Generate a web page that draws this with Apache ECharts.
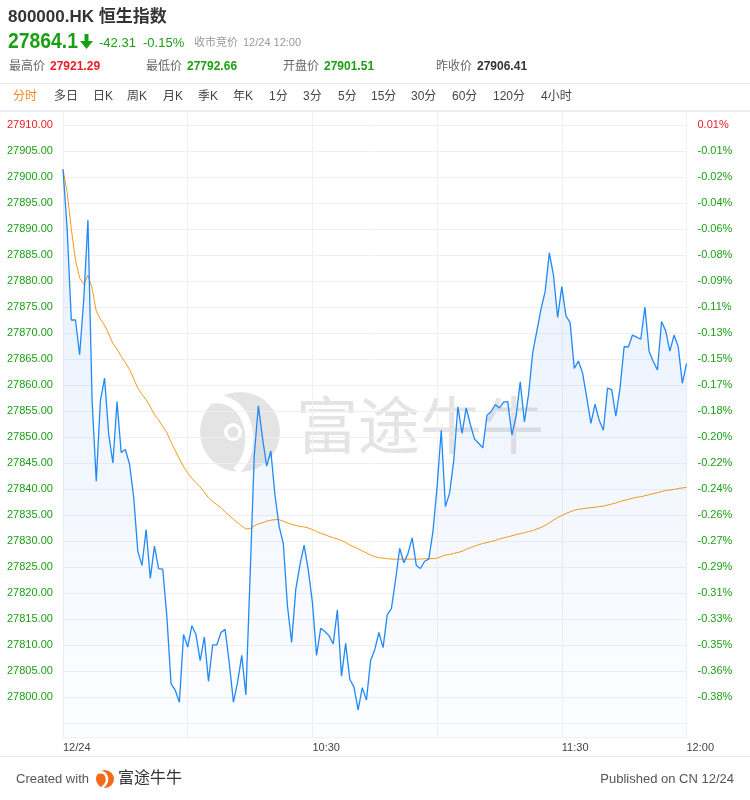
<!DOCTYPE html>
<html lang="zh-CN">
<head>
<meta charset="UTF-8">
<title>800000.HK 恒生指数 分时</title>
<script src="https://cdn.jsdelivr.net/npm/echarts@6/dist/echarts.min.js"></script>
<style>
    html, body { margin: 0; padding: 0; background: #fff; }
    #main { width: 750px; height: 800px; }
</style>
</head>
<body>
<div id="main"></div>
<script>
    // ---- data ----
    var prevClose = 27906.41;
    var lastPrice = 27864.1;
    var change = -42.31;
    var changePct = -0.15;
    var highPrice = 27921.29;
    var lowPrice = 27792.66;
    var openPrice = 27901.51;

    // price every minute 09:30 .. 12:00
    var prices = [
        27901.5, 27890, 27872.5, 27872.5, 27865.8, 27876.5, 27891.7, 27857, 27841.5, 27857,
        27861.3, 27850.5, 27845, 27856.8, 27847, 27847.6, 27844.8, 27838.5, 27828, 27825.3,
        27832.2, 27822.8, 27829, 27824.7, 27824.6, 27815.3, 27802.5, 27801.3, 27799, 27812,
        27809.6, 27813.7, 27812, 27807, 27811.5, 27803, 27810, 27810, 27812.4, 27813,
        27806.5, 27799, 27802.8, 27808, 27800.4, 27823, 27846.3, 27856, 27849.8, 27844.4,
        27847.3, 27838.8, 27832.8, 27829.5, 27817.5, 27810.5, 27820.7, 27825.4, 27829.2, 27824.5,
        27818.2, 27808, 27813.2, 27812.6, 27811.8, 27810.2, 27816.7, 27804, 27810.3, 27803.4,
        27801.9, 27797.5, 27801.8, 27799.4, 27807, 27809.1, 27812.4, 27809.5, 27815.8, 27817,
        27822.5, 27828.6, 27825.8, 27827.6, 27830.6, 27825.3, 27824.7, 27826.1, 27826.5, 27831.8,
        27840.5, 27851.3, 27836.6, 27839.2, 27845.4, 27855.8, 27850.7, 27855.6, 27852.4, 27849.6,
        27848.8, 27847.9, 27854.2, 27854.9, 27856.2, 27855.6, 27856.7, 27856.8, 27850.4, 27854,
        27860.6, 27852.9, 27858.2, 27866.2, 27870.4, 27874.6, 27878, 27885.4, 27881.1, 27873,
        27878.9, 27873.3, 27872, 27863.2, 27864.6, 27862.3, 27857.6, 27852.6, 27856.3, 27853.2,
        27851.3, 27859.4, 27859.1, 27854, 27859.3, 27867.4, 27867.3, 27869.6, 27869.2, 27868.8,
        27875, 27866.5, 27864.5, 27862.9, 27872.2, 27870.4, 27866.5, 27869.6, 27867.4, 27860.3,
        27864.1
    ];

    // average price line
    var avgPrices = [
        27901.5, 27897, 27890, 27884, 27880.6, 27879.4, 27881.1, 27878.6, 27874.2, 27872.7,
        27871.5, 27869.8, 27868, 27866.9, 27865.5, 27864.3, 27863, 27861.2, 27859.4, 27858.2,
        27857.2, 27855.8, 27854.3, 27853.3, 27852, 27850.8, 27849, 27847.4, 27845.8, 27844.3,
        27843.1, 27842.1, 27841.2, 27840.4, 27839.4, 27838.3, 27837.6, 27837, 27836.4, 27835.6,
        27834.9, 27834.2, 27833.5, 27832.9, 27832.3, 27832.4, 27832.9, 27833.3, 27833.5, 27833.8,
        27834, 27834.1, 27834.1, 27833.8, 27833.5, 27833.2, 27833, 27832.8, 27832.7, 27832.5,
        27832.2, 27831.8, 27831.5, 27831.2, 27830.9, 27830.6, 27830.4, 27830.1, 27829.7, 27829.2,
        27828.9, 27828.5, 27828.1, 27827.7, 27827.3, 27827, 27826.8, 27826.7, 27826.6, 27826.5,
        27826.5, 27826.5, 27826.5, 27826.5, 27826.5, 27826.5, 27826.5, 27826.6, 27826.6, 27826.6,
        27826.7, 27827, 27827.3, 27827.4, 27827.6, 27827.8, 27828, 27828.4, 27828.7, 27829,
        27829.3, 27829.5, 27829.7, 27829.9, 27830.1, 27830.4, 27830.6, 27830.8, 27831, 27831.2,
        27831.4, 27831.6, 27831.8, 27832, 27832.3, 27832.6, 27833, 27833.5, 27834, 27834.5,
        27834.9, 27835.3, 27835.6, 27835.9, 27836.1, 27836.2, 27836.3, 27836.4, 27836.5, 27836.6,
        27836.7, 27836.9, 27837.1, 27837.3, 27837.6, 27837.8, 27838, 27838.2, 27838.4, 27838.5,
        27838.7, 27838.9, 27839.1, 27839.3, 27839.5, 27839.7, 27839.8, 27839.9, 27840.1, 27840.2,
        27840.3
    ];

    // y axis grid lines and labels
    var yGridValues = [27795, 27800, 27805, 27810, 27815, 27820, 27825, 27830, 27835, 27840, 27845, 27850,
        27855, 27860, 27865, 27870, 27875, 27880, 27885, 27890, 27895, 27900, 27905, 27910];
    var yLabelValues = yGridValues.slice(1);

    var tabs = ['分时', '多日', '日K', '周K', '月K', '季K', '年K', '1分', '3分', '5分', '15分', '30分', '60分', '120分', '4小时'];
    var tabX = [13, 54, 93, 127, 163, 198, 233, 269, 303, 338, 371, 411, 452, 493, 541];

    // minute labels 09:30 -> 12:00
    var times = [];
    for (var m = 9 * 60 + 30; m <= 12 * 60; m++) {
        var hh = Math.floor(m / 60), mm = m % 60;
        times.push((hh < 10 ? '0' : '') + hh + ':' + (mm < 10 ? '0' : '') + mm);
    }
    var shownLabels = [0, 60, 120, 150];

    var RED = '#ec1c24';
    var GREEN = '#1a9f14';
    var FONT = '"Liberation Sans", "Noto Sans CJK SC", sans-serif';

    function upDownColor(v) {
        return +v > prevClose ? RED : GREEN;
    }

    function txt(text, x, y, size, color, bold, align) {
        return {
            type: 'text', silent: true,
            style: {
                text: text, x: x, y: y,
                fill: color,
                font: (bold ? 'bold ' : '') + size + 'px ' + FONT,
                textAlign: align || 'left', textVerticalAlign: 'middle',
                align: align || 'left', verticalAlign: 'middle'
            }
        };
    }

    // big last price, a bit condensed like the original
    var bigPrice = txt(lastPrice.toFixed(1), 0, 0, 22, GREEN, true);
    bigPrice.x = 8;
    bigPrice.y = 42;
    bigPrice.scaleX = 0.88;

    var graphics = [
        txt('800000.HK 恒生指数', 8, 17, 17, '#333', true),
        bigPrice,
        { type: 'rect', silent: true, shape: { x: 84.5, y: 34, width: 4, height: 8 }, style: { fill: GREEN } },
        { type: 'polygon', silent: true, shape: { points: [[80, 41], [93, 41], [86.5, 49]] }, style: { fill: GREEN } },
        txt(change.toFixed(2), 99, 43, 13, GREEN),
        txt(changePct.toFixed(2) + '%', 143, 43, 13, GREEN),
        txt('收市竞价', 194, 43, 11, '#999'),
        txt('12/24 12:00', 243, 43, 11, '#999'),

        txt('最高价', 9, 67, 12, '#666'),
        txt(highPrice.toFixed(2), 50, 67, 12, RED, true),
        txt('最低价', 146, 67, 12, '#666'),
        txt(lowPrice.toFixed(2), 187, 67, 12, GREEN, true),
        txt('开盘价', 283, 67, 12, '#666'),
        txt(openPrice.toFixed(2), 324, 67, 12, GREEN, true),
        txt('昨收价', 436, 67, 12, '#666'),
        txt(prevClose.toFixed(2), 477, 67, 12, '#333', true),

        { type: 'rect', silent: true, shape: { x: 0, y: 83, width: 750, height: 1 }, style: { fill: '#e6e9ee' } },
        { type: 'rect', silent: true, shape: { x: 0, y: 110, width: 750, height: 2 }, style: { fill: '#eceef2' } },

        // watermark
        { type: 'circle', silent: true, shape: { cx: 240, cy: 432, r: 40 }, style: { fill: '#e4e4e4' } },
        { type: 'bezierCurve', silent: true,
          shape: { x1: 210, y1: 400, cpx1: 248, cpy1: 392, cpx2: 262, cpy2: 448, x2: 236, y2: 471 },
          style: { stroke: '#fff', lineWidth: 8, fill: null } },
        { type: 'circle', silent: true, shape: { cx: 233, cy: 432, r: 9 }, style: { fill: '#fff' } },
        { type: 'circle', silent: true, shape: { cx: 233, cy: 432, r: 5.5 }, style: { fill: '#e4e4e4' } },
        txt('富途牛牛', 296, 432, 62, '#e4e4e4'),

        // footer
        { type: 'rect', silent: true, shape: { x: 0, y: 756, width: 750, height: 1 }, style: { fill: '#e8e8e8' } },
        txt('Created with', 16, 779, 13, '#555'),
        { type: 'circle', silent: true, shape: { cx: 105, cy: 779, r: 9 }, style: { fill: '#f26b1d' } },
        { type: 'bezierCurve', silent: true,
          shape: { x1: 98, y1: 773, cpx1: 105, cpy1: 769, cpx2: 112, cpy2: 780, x2: 102, y2: 788 },
          style: { stroke: '#fff', lineWidth: 2.5, fill: null } },
        { type: 'circle', silent: true, shape: { cx: 103, cy: 779, r: 1.6 }, style: { fill: '#f26b1d' } },
        txt('富途牛牛', 118, 779, 16, '#333'),
        txt('Published on CN 12/24', 734, 779, 13, '#555', false, 'right')
    ];
    for (var t = 0; t < tabs.length; t++) {
        graphics.push(txt(tabs[t], tabX[t], 97, 12, t === 0 ? '#f5862c' : '#444'));
    }

    var myChart = echarts.init(document.getElementById('main'));
    var yBase = {
        type: 'value',
        min: 27792.3,
        max: 27912.5,
        scale: true,
        axisLine: { show: false },
        axisTick: { show: false, customValues: yGridValues },
        splitLine: { show: true, lineStyle: { color: '#eef0f3', width: 1 } }
    };

    var option = {
        animation: false,
        backgroundColor: '#fff',
        graphic: { elements: graphics },
        grid: { left: 63, right: 63.5, top: 112, bottom: 63 },
        xAxis: {
            type: 'category',
            data: times,
            boundaryGap: false,
            axisLine: { show: true, lineStyle: { color: '#eef0f3' } },
            axisTick: { show: false },
            splitLine: {
                show: true,
                interval: function (index) { return index % 30 === 0; },
                lineStyle: { color: '#eef0f3' }
            },
            axisLabel: {
                interval: function (index) { return shownLabels.indexOf(index) >= 0; },
                formatter: function (value, index) { return index === 0 ? '12/24' : value; },
                align: 'left',
                margin: 5,
                color: '#444',
                fontSize: 11,
                fontFamily: FONT
            }
        },
        yAxis: [
            echarts.util.merge({
                position: 'left',
                axisLabel: {
                    customValues: yLabelValues,
                    align: 'left',
                    margin: 56,
                    fontSize: 11,
                    fontFamily: FONT,
                    color: upDownColor,
                    formatter: function (v) { return (+v).toFixed(2); }
                }
            }, yBase, true),
            echarts.util.merge({
                position: 'right',
                axisLabel: {
                    customValues: yLabelValues,
                    align: 'left',
                    margin: 11,
                    fontSize: 11,
                    fontFamily: FONT,
                    color: upDownColor,
                    formatter: function (v) {
                        return ((+v - prevClose) / prevClose * 100).toFixed(2) + '%';
                    }
                },
                splitLine: { show: false }
            }, echarts.util.clone(yBase), false)
        ],
        series: [
            {
                name: '均价',
                type: 'line',
                data: avgPrices,
                symbol: 'none',
                z: 3,
                lineStyle: { color: '#f59a17', width: 1 }
            },
            {
                name: '价格',
                type: 'line',
                data: prices,
                symbol: 'none',
                z: 4,
                lineStyle: { color: '#2189f5', width: 1.3 },
                areaStyle: {
                    color: new echarts.graphic.LinearGradient(0, 0, 0, 1, [
                        { offset: 0, color: 'rgba(52,128,240,0.17)' },
                        { offset: 1, color: 'rgba(52,128,240,0.02)' }
                    ])
                }
            }
        ]
    };
    myChart.setOption(option);
</script>
</body>
</html>
